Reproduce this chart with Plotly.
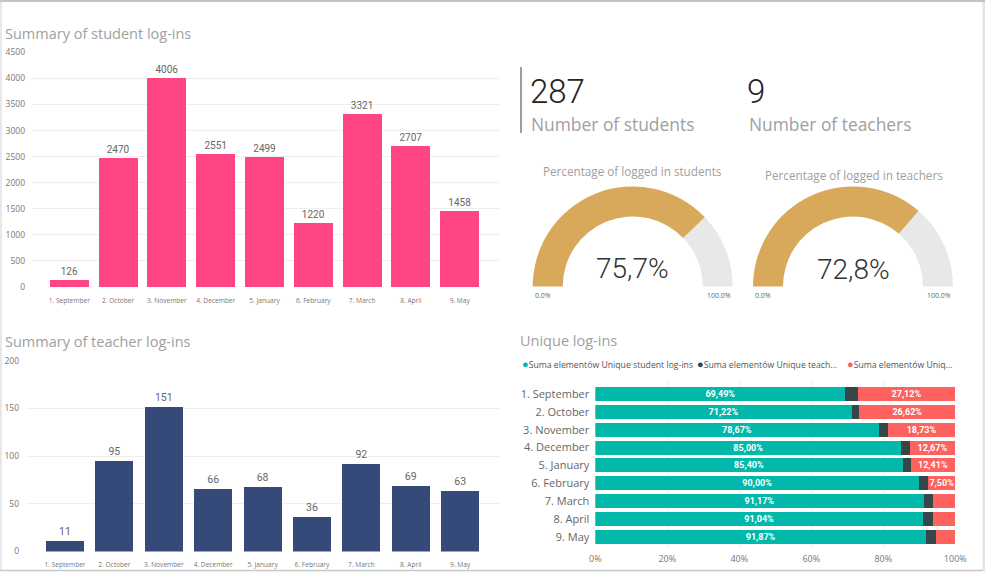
import plotly.graph_objects as go

# ---------------- data ----------------
months = ["1. September", "2. October", "3. November", "4. December", "5. January",
          "6. February", "7. March", "8. April", "9. May"]
student_logins = [126, 2470, 4006, 2551, 2499, 1220, 3321, 2707, 1458]
teacher_logins = [11, 95, 151, 66, 68, 36, 92, 69, 63]
student_ticks = [0, 500, 1000, 1500, 2000, 2500, 3000, 3500, 4000, 4500]
teacher_ticks = [0, 50, 100, 150, 200]

n_students = 287
n_teachers = 9
pct_students_logged = 75.7
pct_teachers_logged = 72.8

uniq_student = [69.49, 71.22, 78.67, 85.00, 85.40, 90.00, 91.17, 91.04, 91.87]
uniq_teacher = [3.39, 2.16, 2.60, 2.33, 2.19, 2.50, 2.72, 2.76, 2.73]
uniq_other = [27.12, 26.62, 18.73, 12.67, 12.41, 7.50, 6.11, 6.20, 5.40]
pct_ticks = [0, 20, 40, 60, 80, 100]
legend_names = ["Suma elementów Unique student log-ins",
                "Suma elementów Unique teach...",
                "Suma elementów Uniq..."]

# ---------------- style ----------------
W, H = 985, 573
PINK = "#FF4586"
NAVY = "#364A7A"
GOLD = "#D9A95B"
LIGHT = "#E8E8E8"
TEAL = "#01B8AA"
DARK = "#374649"
RED = "#FD625E"
GRID = "#EEEEEE"
TITLE_C = "#A0A0A0"
TICK_C = "#777777"
FONT = "Open Sans"
NUMFONT = "Roboto"


def X(px):
    return px / W


def Y(py):
    return 1 - py / H


def pct_txt(v):
    return f"{v:.2f}%".replace(".", ",")


fig = go.Figure()

# student log-ins
fig.add_trace(go.Bar(
    x=list(range(len(months))), y=student_logins, marker=dict(color=PINK, line=dict(width=0)),
    width=0.8, text=[str(v) for v in student_logins], textposition="outside",
    textfont=dict(family=NUMFONT, size=10, color="#666666"), cliponaxis=False,
    constraintext="none", xaxis="x", yaxis="y", showlegend=False, hoverinfo="skip"))

# teacher log-ins
fig.add_trace(go.Bar(
    x=list(range(len(months))), y=teacher_logins, marker=dict(color=NAVY, line=dict(width=0)),
    width=0.77, text=[str(v) for v in teacher_logins], textposition="outside",
    textfont=dict(family=NUMFONT, size=10.5, color="#666666"), cliponaxis=False,
    constraintext="none", xaxis="x2", yaxis="y2", showlegend=False, hoverinfo="skip"))

# unique log-ins (100% stacked)
for vals, col, name, show in [
        (uniq_student, TEAL, legend_names[0], [True] * 9),
        (uniq_teacher, DARK, legend_names[1], [False] * 9),
        (uniq_other, RED, legend_names[2], [v >= 7 for v in uniq_other])]:
    fig.add_trace(go.Bar(
        y=months, x=vals, orientation="h", name=name,
        marker=dict(color=col, line=dict(width=0)),
        text=[pct_txt(v) if s else "" for v, s in zip(vals, show)],
        textposition="inside", insidetextanchor="middle", constraintext="none",
        textfont=dict(family=NUMFONT, size=9, color="white", weight="bold"),
        xaxis="x3", yaxis="y3", showlegend=False, hoverinfo="skip"))

# gauges as half donuts
for pct, cx in [(pct_students_logged, 632.7), (pct_teachers_logged, 853.0)]:
    fig.add_trace(go.Pie(
        values=[pct, 100 - pct, 100], sort=False, direction="clockwise", rotation=270,
        hole=0.70, textinfo="none", hoverinfo="skip", showlegend=False,
        marker=dict(colors=[GOLD, LIGHT, "rgba(0,0,0,0)"], line=dict(width=0)),
        domain=dict(x=[X(cx - 100), X(cx + 100)], y=[Y(386.5), Y(186.5)])))

axis_common = dict(showline=False, zeroline=False, ticks="", fixedrange=True, automargin=False)

fig.update_layout(
    template="none",
    width=W, height=H, autosize=False,
    margin=dict(l=0, r=0, t=0, b=0, pad=0),
    paper_bgcolor="white", plot_bgcolor="white",
    bargap=0.21, barmode="stack",
    font=dict(family=FONT, color=TICK_C),
    xaxis=dict(domain=[X(32), X(500)], anchor="y", range=[-0.764, 8.826],
               tickvals=list(range(len(months))), ticktext=months, showgrid=False,
               tickfont=dict(size=6.6, color=TICK_C), ticklabelstandoff=8, **axis_common),
    yaxis=dict(domain=[Y(287), Y(52.3)], anchor="x", range=[0, 4500], tickvals=student_ticks,
               ticktext=[str(v) for v in student_ticks],
               showgrid=True, gridcolor=GRID, gridwidth=1, tickfont=dict(size=8.5, color=TICK_C),
               ticklabelstandoff=6, **axis_common),
    xaxis2=dict(domain=[X(26), X(500)], anchor="y2", range=[-0.789, 8.806],
                tickvals=list(range(len(months))), ticktext=months, showgrid=False,
                tickfont=dict(size=6.6, color=TICK_C), ticklabelstandoff=8, **axis_common),
    yaxis2=dict(domain=[Y(551.5), Y(360.7)], anchor="x2", range=[0, 200], tickvals=teacher_ticks,
                ticktext=[str(v) for v in teacher_ticks],
                showgrid=True, gridcolor=GRID, gridwidth=1, tickfont=dict(size=8.5, color=TICK_C),
                ticklabelstandoff=6, **axis_common),
    xaxis3=dict(domain=[X(595.3), X(955.3)], anchor="y3", range=[0, 100], tickvals=pct_ticks,
                ticktext=[f"{v}%" for v in pct_ticks], showgrid=True, gridcolor=GRID, gridwidth=1,
                tickfont=dict(size=9, color=TICK_C), ticklabelstandoff=4, **axis_common),
    yaxis3=dict(domain=[Y(548), Y(380)], anchor="x3", range=[8.63, -0.79], type="category",
                categoryorder="array", categoryarray=months, showgrid=False,
                tickfont=dict(size=11, color="#666666"), ticklabelstandoff=5, **axis_common),
)

ann = []


def add_text(text, x, y, size, color, xanchor="left", family=FONT, weight=None):
    f = dict(family=family, size=size, color=color)
    if weight:
        f["weight"] = weight
    ann.append(dict(text=text, x=X(x), y=Y(y), xref="paper", yref="paper",
                    xanchor=xanchor, yanchor="middle", showarrow=False, font=f))


add_text("Summary of student log-ins", 3, 33, 14.5, TITLE_C)
add_text("Summary of teacher log-ins", 3, 341, 14.5, TITLE_C)
add_text("Unique log-ins", 518, 340, 14.5, TITLE_C)

add_text(str(n_students), 528, 91, 33, "#252423", family=NUMFONT, weight=300)
add_text("Number of students", 529, 124, 17.4, TITLE_C)
add_text(str(n_teachers), 745, 91, 33, "#252423", family=NUMFONT, weight=300)
add_text("Number of teachers", 747, 124, 17.4, TITLE_C)

add_text("Percentage of logged in students", 632.7, 171.5, 11.7, TITLE_C, xanchor="center")
add_text("Percentage of logged in teachers", 853.8, 175, 11.7, TITLE_C, xanchor="center")
for pct, cx, cy in [(pct_students_logged, 632.7, 268), (pct_teachers_logged, 853.0, 270)]:
    add_text(f"{pct:.1f}%".replace(".", ","), cx, cy, 28, "#333333", xanchor="center",
             family=NUMFONT, weight=300)
    add_text("0.0%", cx - 100, 295.5, 7, "#666666")
    add_text("100.0%", cx + 100, 295.5, 7, "#666666", xanchor="right")

for name, col, x in zip(legend_names, [TEAL, DARK, RED], [519.5, 694.5, 844.5]):
    add_text(f"<span style='color:{col};font-size:11px'>●</span>{name}", x, 363.5, 8.7, "#555555")

shapes = [
    dict(type="line", xref="paper", yref="paper", x0=X(521), x1=X(521), y0=Y(67), y1=Y(133),
         line=dict(color="#9E9E9E", width=2)),
    dict(type="line", xref="paper", yref="paper", x0=X(0), x1=X(985), y0=Y(1), y1=Y(1),
         line=dict(color="#C4C4C4", width=2)),
    dict(type="line", xref="paper", yref="paper", x0=X(1), x1=X(1), y0=Y(0), y1=Y(571),
         line=dict(color="#D0D0D0", width=1)),
    dict(type="line", xref="paper", yref="paper", x0=X(0), x1=X(985), y0=Y(570.5), y1=Y(570.5),
         line=dict(color="#C8C8C8", width=1.5)),
    dict(type="rect", xref="paper", yref="paper", x0=X(982.5), x1=X(985), y0=Y(2), y1=Y(571),
         line=dict(width=0), fillcolor="#E4E4E4"),
]

fig.update_layout(annotations=ann, shapes=shapes)
fig.write_html("out.html")
